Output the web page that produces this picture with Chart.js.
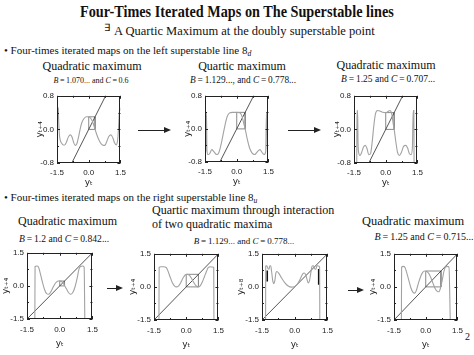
<!DOCTYPE html>
<html><head><meta charset="utf-8">
<script src="https://cdn.jsdelivr.net/npm/chart.js@4/dist/chart.umd.min.js"></script>
<style>
body{margin:0;width:474px;height:355px;background:#fff;position:relative;overflow:hidden;font-family:"Liberation Serif","Times New Roman",serif;color:#111}
.t{position:absolute;white-space:nowrap;line-height:1}
.c{transform:translateX(-50%)}
canvas{position:absolute}
.al{position:absolute;height:1px;background:#222}
.ah{position:absolute;width:0;height:0;border-top:3px solid transparent;border-bottom:3px solid transparent;border-left:7px solid #222}
sub{font-size:70%;vertical-align:-0.25em;line-height:0}
</style></head><body>
<div class="t" style="left:0;width:474px;text-align:center;top:3.5px;font-size:16px;font-weight:bold;transform:scaleX(0.89);transform-origin:236px 0">Four-Times Iterated Maps on The Superstable lines</div>
<div class="t" style="left:104px;top:23px;font-size:10px">&#8707;</div>
<div class="t" style="left:114px;top:24.5px;font-size:12.5px">A Quartic Maximum at the doubly superstable point</div>
<div class="t" style="left:4px;top:44.8px;font-size:11px">&#8226; Four-times iterated maps on the left superstable line 8<sub><i>d</i></sub></div>
<div class="t c" style="left:92px;top:60px;font-size:12px">Quadratic maximum</div>
<div class="t c" style="left:91px;top:76.5px;font-size:8px"><i>B</i>&#8201;=&#8201;1.070... and <i>C</i>&#8201;=&#8201;0.6</div>
<div class="t c" style="left:242px;top:60px;font-size:12px">Quartic maximum</div>
<div class="t c" style="left:243px;top:75.5px;font-size:9.3px"><i>B</i>&#8201;=&#8201;1.129..., and <i>C</i>&#8201;=&#8201;0.778...</div>
<div class="t c" style="left:386px;top:59px;font-size:12px">Quadratic maximum</div>
<div class="t c" style="left:388px;top:75.3px;font-size:9.5px"><i>B</i>&#8201;=&#8201;1.25 and <i>C</i>&#8201;=&#8201;0.707...</div>
<div class="t" style="left:4px;top:191.5px;font-size:11px">&#8226; Four-times iterated maps on the right superstable line 8<sub><i>u</i></sub></div>
<div class="t" style="left:18px;top:215px;font-size:12px">Quadratic maximum</div>
<div class="t" style="left:152px;top:204px;font-size:12px">Quartic maximum through interaction</div>
<div class="t" style="left:152px;top:218px;font-size:12px">of two quadratic maxima</div>
<div class="t" style="left:362px;top:215px;font-size:12.4px">Quadratic maximum</div>
<div class="t c" style="left:64px;top:233.7px;font-size:9.6px"><i>B</i>&#8201;=&#8201;1.2 and <i>C</i>&#8201;=&#8201;0.842...</div>
<div class="t c" style="left:244px;top:236.5px;font-size:9px"><i>B</i>&#8201;=&#8201;1.129... and <i>C</i>&#8201;=&#8201;0.778...</div>
<div class="t c" style="left:424px;top:232.3px;font-size:10px"><i>B</i>&#8201;=&#8201;1.25 and <i>C</i>&#8201;=&#8201;0.715...</div>
<div class="t" style="left:465px;top:331.6px;font-size:10px">2</div>
<div class="al" style="left:138px;top:129.5px;width:27px"></div><div class="ah" style="left:164px;top:127px"></div>
<div class="al" style="left:288px;top:129.5px;width:27px"></div><div class="ah" style="left:314px;top:127px"></div>
<div class="al" style="left:107px;top:287.5px;width:10px"></div><div class="ah" style="left:116px;top:285px"></div>
<div class="al" style="left:348px;top:289.5px;width:10px"></div><div class="ah" style="left:357px;top:287px"></div>
<script>
// ---- tick labels ----
const xTicks = [-1.5, 0, 1.5];
const topYTicks = [-0.8, 0, 0.8];
const botYTicks = [-1.5, 0, 1.5];

// ---- diagonals (y = x) ----
const topDiagX = [-0.8, 0.8];
const topDiagY = [-0.8, 0.8];
const botDiagX = [-1.5, 1.5];
const botDiagY = [-1.5, 1.5];

// ---- plot 1: B=1.070..., C=0.6 ----
const p1X = [-1.5,-1.47,-1.44,-1.42,-1.39,-1.35,-1.28,-1.2,-1.13,-1.05,-0.97,-0.88,-0.8,-0.72,-0.64,-0.56,-0.48,-0.4,-0.32,-0.22,-0.1,0.0,0.1,0.2,0.3,0.4,0.5,0.6,0.7,0.78,0.86,0.95,1.05,1.14,1.22,1.3,1.36,1.4,1.44,1.47,1.5];
const p1Y = [0.2,0.52,0.5,0.2,-0.1,-0.25,-0.33,-0.37,-0.37,-0.3,-0.19,-0.13,-0.17,-0.3,-0.38,-0.34,-0.18,0.02,0.17,0.26,0.3,0.3,0.26,0.16,0.0,-0.15,-0.27,-0.35,-0.38,-0.37,-0.28,-0.17,-0.13,-0.2,-0.32,-0.37,-0.28,-0.05,0.35,0.52,0.45];
const p1BoxX = [0, 0, 0.3, 0.3, 0];
const p1BoxY = [0, 0.3, 0.3, 0, 0];

// ---- plot 2: B=1.129..., C=0.778... (left) ----
const p2X = [-1.47,-1.45,-1.43,-1.41,-1.36,-1.28,-1.18,-1.08,-0.95,-0.85,-0.75,-0.65,-0.55,-0.45,-0.35,-0.2,0.0,0.15,0.25,0.35,0.4,0.5,0.6,0.72,0.85,0.98,1.1,1.2,1.3,1.37,1.41,1.43,1.45];
const p2Y = [-0.55,0.4,0.4,-0.5,-0.62,-0.6,-0.5,-0.55,-0.62,-0.58,-0.4,-0.15,0.1,0.3,0.38,0.4,0.4,0.39,0.3,0.1,0.0,-0.25,-0.45,-0.58,-0.62,-0.55,-0.5,-0.57,-0.62,-0.55,0.4,0.4,-0.5];
const p2BoxX = [0, 0, 0.4, 0.4, 0];
const p2BoxY = [0, 0.4, 0.4, 0, 0];

// ---- plot 3: B=1.25, C=0.707... ----
const p3X = [-1.37,-1.36,-1.33,-1.31,-1.28,-1.22,-1.14,-1.05,-0.97,-0.89,-0.8,-0.72,-0.64,-0.56,-0.48,-0.38,-0.28,-0.15,0.0,0.12,0.2,0.28,0.35,0.4,0.48,0.56,0.65,0.74,0.85,0.95,1.04,1.12,1.2,1.26,1.3,1.33,1.34];
const p3Y = [-0.8,0.45,0.45,-0.3,-0.55,-0.62,-0.55,-0.42,-0.38,-0.45,-0.6,-0.58,-0.3,0.1,0.38,0.45,0.44,0.41,0.4,0.43,0.45,0.38,0.15,0.0,-0.3,-0.55,-0.62,-0.55,-0.4,-0.38,-0.45,-0.58,-0.6,-0.45,0.45,0.45,-0.8];
const p3BoxX = [0, 0, 0.4, 0.4, 0];
const p3BoxY = [0, 0.4, 0.4, 0, 0];

// ---- plot 4: B=1.2, C=0.842... ----
const p4X = [-1.14,-1.13,-1.05,-0.97,-0.9,-0.8,-0.7,-0.6,-0.5,-0.4,-0.3,-0.2,-0.1,0.0,0.1,0.2,0.3,0.4,0.5,0.6,0.7,0.8,0.88,0.95,1.05,1.12,1.15];
const p4Y = [-1.5,0.88,0.9,0.85,0.6,0.2,-0.15,-0.35,-0.38,-0.25,-0.05,0.12,0.21,0.23,0.18,0.05,-0.12,-0.3,-0.38,-0.3,-0.05,0.35,0.75,0.88,0.9,0.85,-1.5];
const p4BoxX = [0, 0, 0.22, 0.22, 0];
const p4BoxY = [0, 0.22, 0.22, 0, 0];

// ---- plot 5: B=1.129..., C=0.778... (right) ----
const p5X = [-1.27,-1.26,-1.18,-1.05,-0.93,-0.85,-0.75,-0.65,-0.55,-0.45,-0.35,-0.25,-0.15,-0.05,0.05,0.15,0.25,0.35,0.45,0.55,0.65,0.75,0.85,0.95,1.03,1.12,1.22,1.28,1.29];
const p5Y = [-1.5,0.88,0.91,0.91,0.88,0.72,0.45,0.2,0.05,0.0,0.05,0.2,0.4,0.54,0.57,0.52,0.38,0.2,0.06,0.0,0.05,0.22,0.47,0.72,0.88,0.91,0.9,0.88,-1.5];
const p5BoxX = [0, 0, 0.57, 0.57, 0];
const p5BoxY = [0, 0.57, 0.57, 0, 0];

// ---- plot 6: eight-times iterate ----
const p6X = [-1.335,-1.33,-1.28,-1.22,-1.18,-1.14,-1.1,-1.06,-1.01,-0.96,-0.91,-0.86,-0.82,-0.72,-0.6,-0.45,-0.3,-0.15,0.0,0.12,0.25,0.36,0.43,0.5,0.56,0.62,0.68,0.74,0.8,0.86,0.92,0.97,1.02,1.08,1.14,1.15];
const p6Y = [-1.5,0.95,0.96,0.82,0.8,0.96,0.95,0.7,0.3,0.15,0.3,0.65,0.7,0.6,0.4,0.18,0.04,-0.01,0.02,0.12,0.35,0.58,0.63,0.55,0.35,0.18,0.3,0.65,0.95,0.96,0.82,0.8,0.96,0.95,0.9,-1.5];
const p6MarkAX = [-1.26, -1.26];
const p6MarkAY = [0.24, 0.74];
const p6MarkBX = [1.1, 1.1];
const p6MarkBY = [0.1, 0.81];

// ---- plot 7: B=1.25, C=0.715... ----
const p7X = [-1.15,-1.14,-1.06,-0.98,-0.9,-0.8,-0.7,-0.6,-0.52,-0.44,-0.35,-0.25,-0.15,-0.05,0.05,0.15,0.25,0.35,0.45,0.55,0.62,0.7,0.78,0.86,0.93,1.02,1.1,1.16];
const p7Y = [-1.5,0.9,0.93,0.88,0.65,0.3,-0.05,-0.25,-0.28,-0.15,0.15,0.45,0.65,0.72,0.7,0.6,0.4,0.15,-0.08,-0.2,-0.22,-0.05,0.3,0.7,0.9,0.93,0.9,-1.5];
const p7BoxX = [0, 0, 0.72, 0.72, 0];
const p7BoxY = [0, 0.72, 0.72, 0, 0];

// ---- helpers ----
const pts = (xs, ys) => xs.map((x, i) => ({x: x, y: ys[i]}));
const curve = (xs, ys) => ({data: pts(xs, ys), borderColor: '#a2a2a2', borderWidth: 1.1, pointRadius: 0, cubicInterpolationMode: 'monotone', fill: false});
const diag = (xs, ys) => ({data: pts(xs, ys), borderColor: '#2a2a2a', borderWidth: 0.8, pointRadius: 0, fill: false});
const box = (xs, ys) => ({data: pts(xs, ys), borderColor: '#8a8a8a', borderWidth: 1, pointRadius: 0, fill: false});
const mark = (xs, ys) => ({data: pts(xs, ys), borderColor: '#111', borderWidth: 1.6, pointRadius: 0, fill: false});

Chart.defaults.font.family = '"Liberation Sans", Arial, sans-serif';
Chart.defaults.color = '#222';

const framePlugin = {
  id: 'frame',
  afterDatasetsDraw(chart) {
    const {ctx, chartArea: a, scales} = chart;
    ctx.save();
    ctx.strokeStyle = '#222';
    ctx.lineWidth = 1;
    ctx.strokeRect(Math.round(a.left) + 0.5, Math.round(a.top) + 0.5, Math.round(a.width) - 1, Math.round(a.height) - 1);
    const drawTicks = (scale, horiz) => {
      const vals = scale.ticks.map(t => t.value);
      const all = [];
      vals.forEach((v, i) => { all.push([v, 3]); if (i < vals.length - 1) all.push([(v + vals[i + 1]) / 2, 2]); });
      all.forEach(([v, len]) => {
        const p = Math.round(scale.getPixelForValue(v)) + 0.5;
        ctx.beginPath();
        if (horiz) {
          ctx.moveTo(p, a.bottom); ctx.lineTo(p, a.bottom - len);
          ctx.moveTo(p, a.top); ctx.lineTo(p, a.top + len);
        } else {
          ctx.moveTo(a.left, p); ctx.lineTo(a.left + len, p);
          ctx.moveTo(a.right, p); ctx.lineTo(a.right - len, p);
        }
        ctx.stroke();
      });
    };
    drawTicks(scales.x, true);
    drawTicks(scales.y, false);
    ctx.restore();
  }
};

function makePlot(fl, ft, fw, fh, yw, xh, yTicks, yLim, yTitle, sets, xPad) {
  const P = 4;
  const c = document.createElement('canvas');
  c.width = yw + fw + P;
  c.height = P + fh + xh;
  c.style.left = (fl - yw) + 'px';
  c.style.top = (ft - P) + 'px';
  document.body.appendChild(c);
  new Chart(c, {
    type: 'line',
    data: {datasets: sets},
    options: {
      responsive: false, animation: false, maintainAspectRatio: false,
      layout: {padding: {left: 0, top: P, right: P, bottom: 0}, autoPadding: false},
      plugins: {legend: {display: false}, tooltip: {enabled: false}},
      scales: {
        x: {
          type: 'linear', min: -1.5, max: 1.5,
          afterBuildTicks: s => { s.ticks = xTicks.map(v => ({value: v})); },
          afterFit: s => { s.height = xh; },
          grid: {display: false, drawTicks: false}, border: {display: false},
          ticks: {font: {size: 8}, padding: xPad, maxRotation: 0, autoSkip: false, callback: v => Number(v).toFixed(1)},
          title: {display: true, text: 'y\u209C', font: {size: 9, family: '"DejaVu Sans", sans-serif'}, padding: 0}
        },
        y: {
          type: 'linear', min: -yLim, max: yLim,
          afterBuildTicks: s => { s.ticks = yTicks.map(v => ({value: v})); },
          afterFit: s => { s.width = yw; },
          grid: {display: false, drawTicks: false}, border: {display: false},
          ticks: {font: {size: 8}, padding: 3, autoSkip: false, callback: v => Number(v).toFixed(1)},
          title: {display: true, text: yTitle, font: {size: 9, family: '"DejaVu Sans", sans-serif'}, padding: 0}
        }
      }
    },
    plugins: [framePlugin]
  });
}

const t4 = 'y\u209C\u208A\u2084';
const t8 = 'y\u209C\u208A\u2088';

makePlot(57, 92, 70, 71, 23, 25, topYTicks, 0.8, t4,
  [curve(p1X, p1Y), diag(topDiagX, topDiagY), box(p1BoxX, p1BoxY)], 5);
makePlot(205, 92, 70, 70, 23, 25, topYTicks, 0.8, t4,
  [curve(p2X, p2Y), diag(topDiagX, topDiagY), box(p2BoxX, p2BoxY)], 5);
makePlot(354, 92, 70, 71, 23, 25, topYTicks, 0.8, t4,
  [curve(p3X, p3Y), diag(topDiagX, topDiagY), box(p3BoxX, p3BoxY)], 5);

makePlot(27, 249, 73, 70, 27, 30, botYTicks, 1.5, t4,
  [curve(p4X, p4Y), diag(botDiagX, botDiagY), box(p4BoxX, p4BoxY)], 6);
makePlot(154, 250, 72, 70, 27, 30, botYTicks, 1.5, t4,
  [curve(p5X, p5Y), diag(botDiagX, botDiagY), box(p5BoxX, p5BoxY)], 6);
makePlot(262, 250, 73, 70, 27, 30, botYTicks, 1.5, t8,
  [curve(p6X, p6Y), diag(botDiagX, botDiagY), mark(p6MarkAX, p6MarkAY), mark(p6MarkBX, p6MarkBY)], 6);
makePlot(394, 250, 71, 70, 27, 30, botYTicks, 1.5, t4,
  [curve(p7X, p7Y), diag(botDiagX, botDiagY), box(p7BoxX, p7BoxY)], 6);
</script>
</body></html>
